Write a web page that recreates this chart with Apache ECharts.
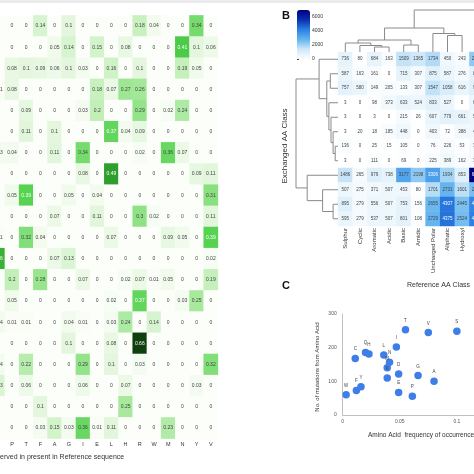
<!DOCTYPE html>
<html>
<head>
<meta charset="utf-8">
<script src="https://cdn.jsdelivr.net/npm/echarts/dist/echarts.min.js"></script>
<style>
  html, body { margin: 0; padding: 0; background: #fff; }
  #chart { width: 474px; height: 474px; }
</style>
</head>
<body>
<div id="chart"></div>
<script>
// panel A: substitution frequency (rows cut on the left side of the figure)
const freqCols = ['S', 'P', 'T', 'F', 'A', 'G', 'I', 'E', 'L', 'H', 'R', 'W', 'M', 'N', 'Y', 'V'];
const freqRowNames = ['A', 'C', 'D', 'E', 'F', 'G', 'H', 'I', 'K', 'L', 'M', 'N', 'P', 'Q', 'R', 'S', 'T', 'V', 'W', 'Y'];
const freqValues = [
  [0, 0, 0, 0.14, 0, 0.1, 0, 0, 0, 0, 0.18, 0.04, 0, 0, 0.34, 0],
  [0, 0, 0, 0, 0.05, 0.14, 0, 0.15, 0, 0.08, 0, 0, 0, 0.41, 0.1, 0.06],
  [0, 0.08, 0.1, 0.09, 0.06, 0.1, 0.03, 0, 0.16, 0, 0.1, 0, 0, 0.19, 0.05, 0],
  [0.01, 0.08, 0, 0, 0, 0, 0, 0.18, 0.07, 0.27, 0.26, 0, 0, 0, 0, 0],
  [0, 0, 0.09, 0, 0, 0, 0.03, 0.2, 0, 0, 0.29, 0, 0.02, 0.24, 0, 0],
  [0, 0, 0.11, 0, 0.1, 0, 0, 0, 0.37, 0.04, 0.09, 0, 0, 0, 0, 0],
  [0.03, 0.04, 0, 0, 0.11, 0, 0.34, 0, 0, 0, 0.02, 0, 0.36, 0.07, 0, 0],
  [0, 0, 0, 0, 0, 0, 0.08, 0, 0.49, 0, 0, 0, 0, 0, 0.09, 0.11],
  [0, 0.05, 0.39, 0, 0, 0.05, 0, 0.04, 0, 0, 0, 0, 0, 0, 0, 0.31],
  [0, 0, 0, 0, 0.07, 0, 0, 0.11, 0, 0, 0.3, 0.02, 0, 0, 0, 0.11],
  [0.01, 0, 0.32, 0.04, 0, 0, 0, 0, 0.07, 0, 0, 0, 0.09, 0.05, 0, 0.39],
  [0.46, 0, 0, 0, 0.07, 0.13, 0, 0, 0, 0, 0, 0, 0, 0, 0, 0.02],
  [0, 0.2, 0, 0.28, 0, 0, 0.07, 0, 0, 0.02, 0.07, 0.01, 0.05, 0, 0, 0.19],
  [0, 0.05, 0, 0, 0, 0, 0, 0, 0.02, 0, 0.37, 0, 0, 0.03, 0.25, 0],
  [0.04, 0.01, 0.01, 0, 0, 0.04, 0.01, 0, 0.03, 0.24, 0, 0.14, 0, 0, 0, 0],
  [0, 0, 0, 0, 0, 0.1, 0, 0, 0.08, 0, 0.66, 0, 0, 0, 0, 0],
  [0.04, 0, 0.22, 0, 0, 0, 0.29, 0, 0.1, 0, 0.03, 0, 0, 0, 0, 0.32],
  [0.13, 0, 0.06, 0, 0, 0, 0.06, 0, 0, 0.07, 0, 0, 0, 0, 0.03, 0],
  [0, 0, 0, 0.1, 0, 0, 0, 0, 0, 0.25, 0, 0, 0, 0, 0, 0],
  [0, 0, 0, 0.03, 0.15, 0.03, 0.36, 0.01, 0.11, 0, 0, 0, 0.23, 0, 0, 0]
];

// panel B: class exchange counts
const classCols = ['Sulphur', 'Cyclic', 'Aromatic', 'Acidic', 'Basic', 'Amidic', 'Uncharged Polar', 'Aliphatic', 'Hydroxyl', 'Hydrophobic', 'Positive', 'Negative'];
const classRows = ['Sulphur', 'Cyclic', 'Aromatic', 'Acidic', 'Basic', 'Amidic', 'Positive', 'Negative', 'Uncharged Polar', 'Hydrophobic', 'Aliphatic', 'Hydroxyl'];
const classCounts = [
  [736, 80, 684, 163, 1509, 1365, 1734, 450, 243, 2200, 900, 700],
  [587, 163, 161, 0, 715, 307, 875, 587, 276, 800, 400, 300],
  [757, 580, 149, 205, 133, 307, 1547, 1058, 616, 900, 500, 400],
  [3, 0, 98, 373, 633, 524, 833, 527, 0, 600, 300, 200],
  [3, 0, 3, 0, 215, 26, 607, 779, 661, 500, 200, 100],
  [3, 20, 18, 185, 448, 0, 403, 72, 388, 400, 200, 100],
  [136, 0, 25, 15, 105, 0, 76, 226, 53, 300, 100, 100],
  [3, 0, 111, 0, 69, 0, 225, 389, 162, 300, 100, 100],
  [1486, 265, 979, 738, 3177, 2198, 3306, 1934, 853, 6800, 2000, 1500],
  [507, 275, 371, 507, 453, 80, 1701, 2731, 1601, 2500, 1200, 900],
  [895, 279, 556, 507, 753, 156, 2655, 4307, 2445, 4000, 1500, 1000],
  [595, 279, 537, 507, 801, 108, 2729, 4375, 2524, 4100, 1500, 1000]
];
const countTicks = [0, 2000, 4000, 6000];

// dendrogram merges [a, b, height], new cluster ids start at n
const rowLinks = [[6, 7, 0.2], [5, 12, 0.35], [10, 11, 0.35], [4, 13, 0.5], [1, 2, 0.55], [3, 15, 0.65],
  [16, 17, 0.8], [9, 14, 1.1], [0, 18, 1.35], [8, 19, 2.2], [20, 21, 3.0]];
const colLinks = [[2, 3, 0.5], [1, 12, 0.65], [4, 5, 0.7], [0, 13, 0.9], [10, 11, 1.0], [15, 14, 1.2],
  [7, 8, 1.65], [6, 18, 1.85], [9, 16, 2.0], [17, 19, 2.4], [21, 20, 4.2]];

// panel C: frequency vs mutations
const aaNames = ['W', 'F', 'Y', 'C', 'Q', 'H', 'L', 'N', 'M', 'K', 'I', 'D', 'E', 'T', 'P', 'G', 'A', 'V', 'S'];
const aaFreq = [0.003, 0.012, 0.016, 0.011, 0.020, 0.023, 0.036, 0.041, 0.039, 0.039, 0.047, 0.049, 0.049, 0.055, 0.061, 0.066, 0.080, 0.075, 0.100];
const aaMut = [60, 73, 84, 168, 186, 181, 178, 157, 140, 110, 202, 122, 67, 253, 56, 117, 100, 245, 249];

function dendroItems (links, n) {
  var pos = [], hgt = [];
  for (var i = 0; i < n; i++) { pos[i] = i; hgt[i] = 0; }
  return links.map(function (l, k) {
    var a = l[0], b = l[1];
    pos[n + k] = (pos[a] + pos[b]) / 2;
    hgt[n + k] = l[2];
    return [pos[a], hgt[a], pos[b], hgt[b], l[2]];
  });
}

function dendroRender (horizontal) {
  return function (params, api) {
    var pa = api.value(0), ha = api.value(1), pb = api.value(2), hb = api.value(3), h = api.value(4);
    var pts = horizontal
      ? [[ha, pa], [h, pa], [h, pb], [hb, pb]]
      : [[pa, ha], [pa, h], [pb, h], [pb, hb]];
    return {
      type: 'polyline',
      shape: { points: pts.map(function (p) { return api.coord(p); }) },
      style: { stroke: '#8a8a8a', lineWidth: 1, fill: 'none' }
    };
  };
}

var freqData = [];
freqValues.forEach(function (row, r) {
  row.forEach(function (v, c) {
    freqData.push({ value: [c, r, v], label: { color: v > 0.365 ? '#fff' : '#444' } });
  });
});
var countData = [];
classCounts.forEach(function (row, r) {
  row.forEach(function (v, c) {
    countData.push({ value: [c, r, v], label: { color: v > 3200 ? '#fff' : '#444' } });
  });
});
var scatterData = aaNames.map(function (n, i) {
  return { name: n, value: [aaFreq[i], aaMut[i]] };
});

var noBounds = { outerBoundsMode: 'none', containLabel: false };
var chart = echarts.init(document.getElementById('chart'));
chart.setOption({
  animation: false,
  backgroundColor: '#fff',
  textStyle: { fontFamily: 'Arial, "Liberation Sans", sans-serif' },
  grid: [
    Object.assign({ left: -9.3, top: 15.4, width: 227.2, height: 423.2 }, noBounds),
    Object.assign({ left: 338, top: 52, width: 175.2, height: 174 }, noBounds),
    Object.assign({ left: 296, top: 52, width: 42, height: 174 }, noBounds),
    Object.assign({ left: 338, top: 10, width: 175.2, height: 42 }, noBounds),
    Object.assign({ left: 297, top: 10, width: 13, height: 49 }, noBounds),
    Object.assign({ left: 342.7, top: 314, width: 137, height: 101 }, noBounds)
  ],
  xAxis: [
    { gridIndex: 0, type: 'category', data: freqCols, axisLine: { show: false },
      axisTick: { alignWithLabel: true, length: 2, lineStyle: { color: '#333' } },
      axisLabel: { fontSize: 5.5, color: '#333', margin: 3 } },
    { gridIndex: 1, type: 'category', data: classCols, axisLine: { show: false },
      axisTick: { alignWithLabel: true, length: 2, lineStyle: { color: '#333' } },
      axisLabel: { rotate: 90, fontSize: 6, color: '#333', margin: 2, interval: 0 } },
    { gridIndex: 2, type: 'value', min: 0, max: 3, inverse: true, show: false },
    { gridIndex: 3, type: 'value', min: -0.5, max: 11.5, show: false },
    { gridIndex: 4, type: 'value', show: false },
    { gridIndex: 5, type: 'value', min: 0, max: 0.12, interval: 0.05, splitLine: { show: false },
      axisLine: { lineStyle: { color: '#c0c0c0' } }, axisTick: { show: false },
      axisLabel: { fontSize: 5, color: '#555', margin: 4, showMaxLabel: false } }
  ],
  yAxis: [
    { gridIndex: 0, type: 'category', data: freqRowNames, inverse: true, show: false },
    { gridIndex: 1, type: 'category', data: classRows, inverse: true, show: false },
    { gridIndex: 2, type: 'value', min: -0.5, max: 11.5, inverse: true, show: false },
    { gridIndex: 3, type: 'value', min: 0, max: 4.2, show: false },
    { gridIndex: 4, type: 'value', min: countTicks[0], max: 6900, interval: 2000, position: 'right',
      splitLine: { show: false }, axisLine: { show: false },
      axisTick: { length: 2, lineStyle: { color: '#444' } },
      axisLabel: { fontSize: 5, color: '#333', margin: 2, showMaxLabel: false,
        formatter: function (v) { return String(v); } } },
    { gridIndex: 5, type: 'value', min: 0, max: 300, interval: 100, splitLine: { show: false },
      axisLine: { show: true, lineStyle: { color: '#c0c0c0' } }, axisTick: { show: false },
      axisLabel: { fontSize: 5, color: '#555', margin: 6 } }
  ],
  visualMap: [
    { type: 'continuous', seriesIndex: 0, min: 0, max: 0.7, show: false,
      inRange: { color: ['#fbfef9', '#e4f7de', '#c2efb8', '#8ee284', '#4fd14b', '#2a9a2a', '#145a14', '#082e08'] } },
    { type: 'continuous', seriesIndex: 1, min: 0, max: 6900, show: true, calculable: false,
      left: 297, top: 10, itemWidth: 13, itemHeight: 49, padding: 0, text: ['', ''], showLabel: false,
      inRange: { color: ['#ffffff', '#cfe8f8', '#63b3ef', '#2a80e4', '#0b2fb0', '#000080'] } }
  ],
  series: [
    { type: 'heatmap', xAxisIndex: 0, yAxisIndex: 0, data: freqData, silent: true,
      label: { show: true, fontSize: 5, formatter: function (p) { return p.value[2]; } } },
    { type: 'heatmap', xAxisIndex: 1, yAxisIndex: 1, data: countData, silent: true,
      label: { show: true, fontSize: 4.5, formatter: function (p) { return p.value[2]; } } },
    { type: 'custom', xAxisIndex: 2, yAxisIndex: 2, silent: true,
      data: dendroItems(rowLinks, classRows.length), renderItem: dendroRender(true) },
    { type: 'custom', xAxisIndex: 3, yAxisIndex: 3, silent: true,
      data: dendroItems(colLinks, classCols.length), renderItem: dendroRender(false) },
    { type: 'scatter', xAxisIndex: 5, yAxisIndex: 5, data: scatterData, symbolSize: 7.5, silent: true,
      itemStyle: { color: '#3d7ee8', opacity: 1 },
      label: { show: true, position: 'top', distance: 3, formatter: '{b}', fontSize: 4.5, color: '#444' } }
  ],
  graphic: [
    { type: 'rect', shape: { x: 0, y: 0, width: 474, height: 3 }, style: { fill: '#ebebeb' } },
    { type: 'text', x: -12.8, y: 457, style: { text: 'Observed in present in Reference sequence',
      font: '7px Arial, "Liberation Sans", sans-serif', fill: '#333', textVerticalAlign: 'middle' } },
    { type: 'text', x: 286, y: 16, style: { text: 'B', font: 'bold 11px Arial, "Liberation Sans", sans-serif',
      fill: '#111', textAlign: 'center', textVerticalAlign: 'middle' } },
    { type: 'text', x: 285, y: 146, rotation: Math.PI / 2, style: { text: 'Exchanged AA Class',
      font: '8px Arial, "Liberation Sans", sans-serif', fill: '#333', textAlign: 'center', textVerticalAlign: 'middle' } },
    { type: 'text', x: 407, y: 285, style: { text: 'Reference AA Class',
      font: '7px Arial, "Liberation Sans", sans-serif', fill: '#333', textVerticalAlign: 'middle' } },
    { type: 'text', x: 286, y: 286, style: { text: 'C', font: 'bold 11px Arial, "Liberation Sans", sans-serif',
      fill: '#111', textAlign: 'center', textVerticalAlign: 'middle' } },
    { type: 'text', x: 317, y: 367, rotation: Math.PI / 2, style: { text: 'No. of mutations from Amino Acid',
      font: '6px Arial, "Liberation Sans", sans-serif', fill: '#333', textAlign: 'center', textVerticalAlign: 'middle' } },
    { type: 'text', x: 368, y: 435, style: { text: 'Amino Acid  frequency of occurrence',
      font: '6.5px Arial, "Liberation Sans", sans-serif', fill: '#333', textVerticalAlign: 'middle' } }
  ]
});
</script>
</body>
</html>
